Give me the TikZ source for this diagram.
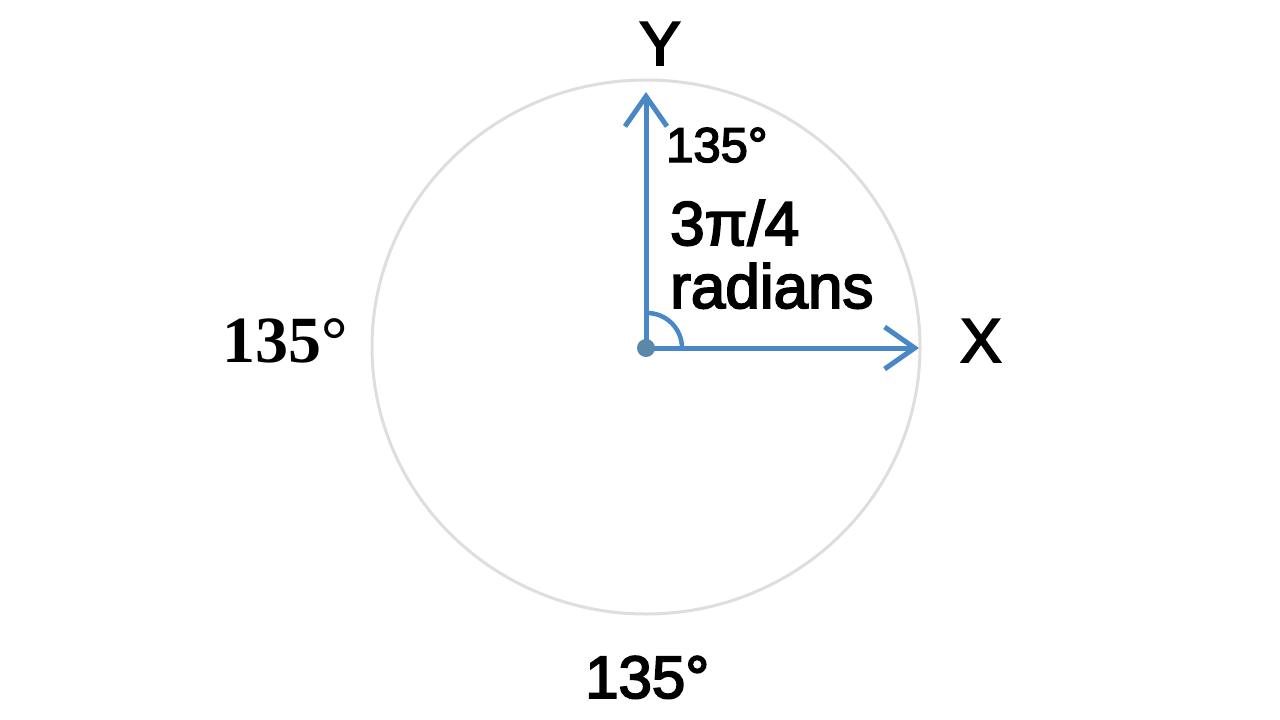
\documentclass[tikz,border=0pt]{standalone}
\usepackage{fontspec}
\setmainfont{Liberation Sans}
\newfontfamily\medfont{Liberation Sans}[FakeBold=3]
\newfontfamily\slabfont{Liberation Serif}
\usetikzlibrary{arrows.meta}
\definecolor{axisblue}{HTML}{4A87C6}
\definecolor{dotblue}{HTML}{5B88A8}
\definecolor{ringgray}{HTML}{DEDEDE}
\tikzset{
  axis/.style={draw=axisblue,line width=5pt,-{Straight Barb[length=30pt,width=42pt,line width=5pt]}},
  lbl/.style={inner sep=0pt,anchor=base west,text=black,font=\medfont},
}
\begin{document}
\begin{tikzpicture}[x=1pt,y=-1pt]
\useasboundingbox[fill=white] (0,0) rectangle (1280,720);
\draw[ringgray,line width=3pt] (646,347) ellipse [x radius=274, y radius=267];
\coordinate (Ytip) at (646,92);
\coordinate (Xtip) at (919,348);
\coordinate (C) at (646,348);
\draw[axisblue,line width=4.5pt] (682,348) arc[start angle=0,end angle=-90,radius=35];
\draw[axis] (C) -- (Ytip);
\draw[axis] (C) -- (Xtip);
\node[circle,fill=dotblue,minimum size=18pt,inner sep=0pt] (O) at (C) {};
\node[lbl,anchor=base] (Y) at (660,65) {\fontsize{62}{62}\selectfont Y};
\node[lbl] (X) at (960,362) {\fontsize{62}{62}\selectfont X};
\node[lbl] (a1) at (666,162) {\fontsize{49}{49}\selectfont 135°};
\node[lbl] (a2) at (670,245) {\fontsize{62}{62}\selectfont 3π/4};
\node[lbl] (a3) at (670,308) {\fontsize{62}{62}\selectfont radians};
\node[lbl] (a4) at (222,362) {\fontsize{66}{66}\selectfont\slabfont\bfseries 135°};
\node[lbl] (a5) at (585,698) {\fontsize{60}{60}\selectfont 135°};
\end{tikzpicture}
\end{document}
